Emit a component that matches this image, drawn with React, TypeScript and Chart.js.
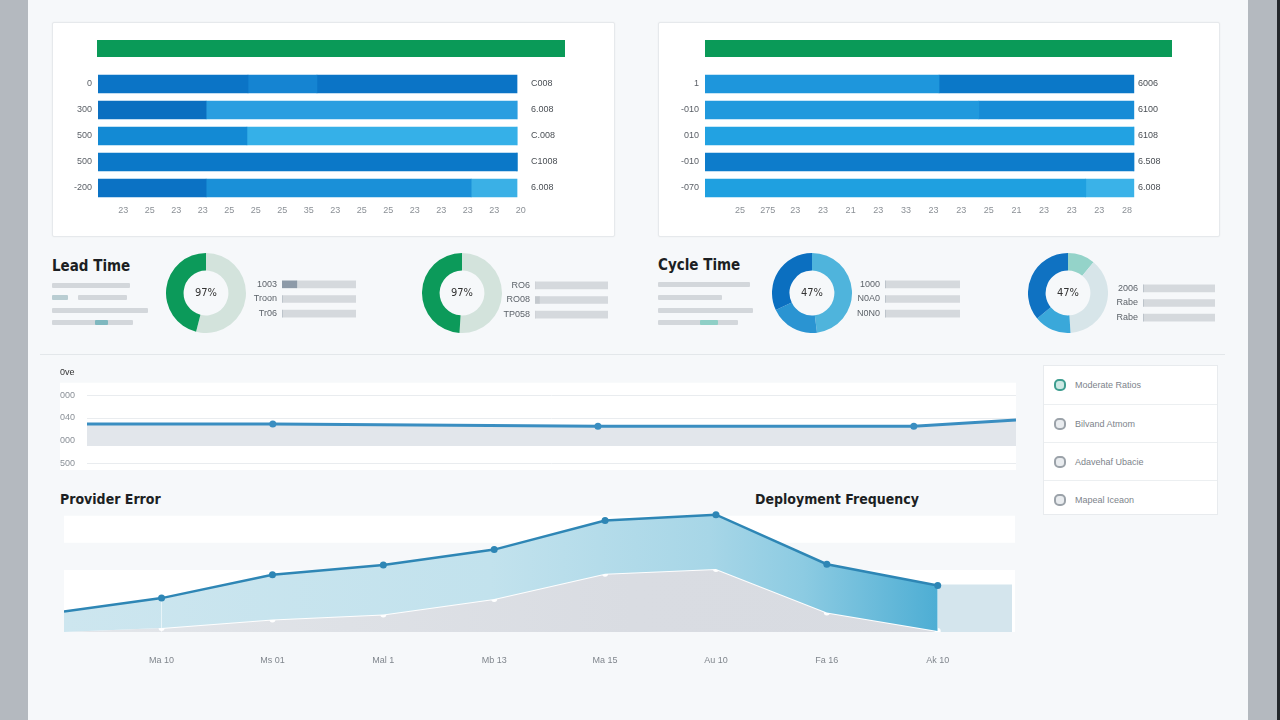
import React, { useEffect, useRef } from 'react';
import { Chart, registerables } from 'chart.js';
Chart.register(...registerables);

const FONT = "'Liberation Sans', Arial, sans-serif";
const NARROW = "'Liberation Sans Narrow', 'DejaVu Sans Condensed', 'Liberation Sans', sans-serif";

// ---------- top-left bar card ----------
const LEFT_ROWS = ['0', '300', '500', '500', '-200'];
const LEFT_VALUES = ['C008', '6.008', 'C.008', 'C1008', '6.008'];
const LEFT_TICKS = ['23', '25', '23', '23', '25', '25', '25', '35', '23', '25', '25', '23', '23', '23', '23', '20'];
const LEFT_SEG1 = [5.66, 4.08, 5.62, 15.81, 4.08];
const LEFT_SEG2 = [2.6, 11.73, 10.19, 0, 10.0];
const LEFT_SEG3 = [7.55, 0, 0, 0, 1.73];
const LEFT_C1 = ['#0b74c6', '#0b6fc0', '#138ad4', '#0b78c8', '#0b72c4'];
const LEFT_C2 = ['#1584d2', '#2a9ee0', '#35b0e8', '#0b78c8', '#1a90d8'];
const LEFT_C3 = ['#0b74c6', '#2a9ee0', '#35b0e8', '#0b78c8', '#3ab0e6'];
const LEFT_GREEN = [17.62];

// ---------- top-right bar card ----------
const RIGHT_ROWS = ['1', '-010', '010', '-010', '-070'];
const RIGHT_VALUES = ['6006', '6100', '6108', '6.508', '6.008'];
const RIGHT_TICKS = ['25', '275', '23', '23', '21', '23', '33', '23', '23', '25', '21', '23', '23', '23', '28'];
const RIGHT_SEG1 = [8.47, 9.91, 15.52, 15.52, 13.78];
const RIGHT_SEG2 = [7.05, 5.61, 0, 0, 1.74];
const RIGHT_C1 = ['#1e96dc', '#2099dd', '#22a2e2', '#0d7ccb', '#1fa0e0'];
const RIGHT_C2 = ['#0b78c8', '#178cd6', '#22a2e2', '#0d7ccb', '#3ab2e8'];
const RIGHT_GREEN = [16.9];

// ---------- donuts ----------
const D1_VALUES = [54, 46];
const D2_VALUES = [51, 49];
const D3_VALUES = [48, 20, 32];
const D4_VALUES = [11, 38, 15, 36];
const D1_LABELS = ['Rest', 'Done'];
const D3_LABELS = ['A', 'B', 'C'];
const D4_LABELS = ['A', 'B', 'C', 'D'];
const DONUT_TEXT = ['97%', '97%', '47%', '47%'];

const MINI1_LABELS = ['1003', 'Troon', 'Tr06'];
const MINI1_HI = [20, 0, 0];
const MINI2_LABELS = ['RO6', 'RO08', 'TP058'];
const MINI2_HI = [0, 6, 0];
const MINI3_LABELS = ['1000', 'N0A0', 'N0N0'];
const MINI3_HI = [0, 0, 0];
const MINI4_LABELS = ['2006', 'Rabe', 'Rabe'];
const MINI4_HI = [0, 0, 0];

// ---------- middle line ----------
const MID_TICKS = ['500', '000', '040', '000', '0ve'];
const MID_X = [0, 20, 55, 89, 100];
const MID_Y = [1.73, 1.73, 1.64, 1.64, 1.91];
const MID_MARK = [0, 3.5, 3.5, 3.5, 0];
const MID_FLOOR = 0.76;

// ---------- bottom area ----------
const BOTTOM_LABELS = ['Ma 10', 'Ms 01', 'Mal 1', 'Mb 13', 'Ma 15', 'Au 10', 'Fa 16', 'Ak 10'];
const BOTTOM_X = [-0.88, 0, 1, 2, 3, 4, 5, 6, 7];
const UPPER = [16.2, 26.9, 45.4, 53.1, 65.4, 88.5, 93.1, 53.8, 36.9];
const LOWER = [0, 3.1, 10, 13.8, 26.2, 46.2, 50, 15.4, 0.8];
const BOX_X = [7, 7.67];
const BOX_Y = [37.7, 37.7];

const LIST_ITEMS = ['Moderate Ratios', 'Bilvand Atmom', 'Adavehaf Ubacie', 'Mapeal Iceaon'];

const BASE = {
  responsive: false,
  animation: false,
  events: [],
  layout: { padding: 0 },
  plugins: { legend: { display: false }, tooltip: { enabled: false } },
};

const noPad = (a: any) => { a.paddingTop = 0; a.paddingBottom = 0; };

function Canvas({ x, y, w, h, make }: any) {
  const ref = useRef<HTMLCanvasElement>(null);
  useEffect(() => {
    const c = new Chart(ref.current as HTMLCanvasElement, make());
    return () => c.destroy();
  }, []);
  return (
    <canvas
      ref={ref}
      width={w}
      height={h}
      style={{ position: 'absolute', left: x, top: y, width: w, height: h }}
    />
  );
}

const valueLabels = (values: string[], at: number) => ({
  id: 'vals',
  afterDatasetsDraw(chart: any) {
    const { ctx, scales } = chart;
    ctx.save();
    ctx.font = `9px ${FONT}`;
    ctx.fillStyle = '#4a4f55';
    ctx.textBaseline = 'middle';
    ctx.textAlign = 'left';
    values.forEach((v, i) => ctx.fillText(v, scales.x.getPixelForValue(at), scales.y.getPixelForValue(i)));
    ctx.restore();
  },
});

function barConfig(rows: string[], segs: number[][], colors: string[][], ticks: string[], tickStart: number, xMax: number, values: string[], valueAt: number) {
  return {
    type: 'bar',
    data: {
      labels: rows,
      datasets: segs.map((s, k) => ({ data: s, backgroundColor: colors[k], borderWidth: 0, barThickness: 18 })),
    },
    options: {
      ...BASE,
      indexAxis: 'y',
      scales: {
        x: {
          stacked: true, min: 0, max: xMax,
          grid: { display: false, drawTicks: false }, border: { display: false },
          afterBuildTicks: (a: any) => { a.ticks = ticks.map((_, i) => ({ value: tickStart + i })); },
          ticks: { autoSkip: false, maxRotation: 0, padding: 4, color: '#8b9096', font: { size: 9, family: FONT }, callback: (_v: any, i: number) => ticks[i] },
          afterFit: (a: any) => { a.height = 20; a.paddingLeft = 0; a.paddingRight = 0; },
        },
        y: {
          stacked: true,
          grid: { display: false, drawTicks: false }, border: { display: false },
          ticks: { padding: 6, color: '#5a5f66', font: { size: 9, family: FONT } },
          afterFit: (a: any) => { a.width = 48; noPad(a); },
        },
      },
    },
    plugins: [valueLabels(values, valueAt)],
  };
}

function greenConfig(value: number[], xMax: number) {
  return {
    type: 'bar',
    data: { labels: [''], datasets: [{ data: value, backgroundColor: '#0a9a58', borderWidth: 0, barPercentage: 1, categoryPercentage: 1 }] },
    options: {
      ...BASE,
      indexAxis: 'y',
      scales: { x: { display: false, min: 0, max: xMax }, y: { display: false } },
    },
  };
}

function donutConfig(labels: string[], data: number[], colors: string[]) {
  return {
    type: 'doughnut',
    data: { labels, datasets: [{ data, backgroundColor: colors, borderWidth: 0 }] },
    options: { ...BASE, cutout: '56%' },
  };
}

function miniConfig(labels: string[], hi: number[], hiColor: string) {
  return {
    type: 'bar',
    data: {
      labels,
      datasets: [
        { data: hi, backgroundColor: hiColor, borderWidth: 0, barThickness: 7 },
        { data: hi.map((v) => 100 - v), backgroundColor: '#d5d9dd', borderWidth: 0, barThickness: 7 },
      ],
    },
    options: {
      ...BASE,
      indexAxis: 'y',
      scales: {
        x: { stacked: true, min: 0, max: 100, display: false },
        y: {
          stacked: true,
          grid: { display: false, drawTicks: false }, border: { display: false },
          ticks: { padding: 5, color: '#5d636a', font: { size: 9, family: FONT } },
          afterFit: (a: any) => { a.width = 42; noPad(a); },
        },
      },
    },
  };
}

const midBg = {
  id: 'midBg',
  beforeDraw(chart: any) {
    const { ctx, scales, chartArea, width } = chart;
    const top = scales.y.getPixelForValue(3.56);
    ctx.save();
    ctx.fillStyle = '#ffffff';
    ctx.fillRect(0, top, width, chartArea.bottom - top);
    ctx.restore();
  },
};

function midConfig() {
  return {
    type: 'line',
    data: {
      datasets: [{
        data: MID_X.map((x, i) => ({ x, y: MID_Y[i] })),
        borderColor: '#3a8ec1', borderWidth: 3,
        fill: { value: MID_FLOOR }, backgroundColor: '#e2e6eb',
        pointRadius: MID_MARK, pointBackgroundColor: '#3a8ec1', pointBorderWidth: 0, tension: 0,
      }],
    },
    options: {
      ...BASE,
      scales: {
        x: { type: 'linear', min: 0, max: 100, display: false },
        y: {
          min: -0.3, max: 4.3,
          afterBuildTicks: (a: any) => { a.ticks = MID_TICKS.map((_, i) => ({ value: i })); },
          ticks: {
            callback: (_v: any, i: number) => MID_TICKS[i], crossAlign: 'far', padding: 0,
            color: (c: any) => (c.index === 4 ? '#333' : '#8a9097'), font: { size: 9, family: FONT },
          },
          grid: { color: (c: any) => (c.index === 4 ? 'rgba(0,0,0,0)' : '#e9ecef'), drawTicks: false },
          border: { display: false },
          afterFit: (a: any) => { a.width = 27; noPad(a); },
        },
      },
    },
    plugins: [midBg],
  };
}

const bands = {
  id: 'bands',
  beforeDatasetsDraw(chart: any) {
    const { ctx, scales, chartArea } = chart;
    ctx.save();
    ctx.fillStyle = '#ffffff';
    [[70.8, 92.3], [0, 49.2]].forEach(([a, b]) => {
      const y1 = scales.y.getPixelForValue(b);
      const y2 = scales.y.getPixelForValue(a);
      ctx.fillRect(chartArea.left, y1, chartArea.right - chartArea.left + 3, y2 - y1);
    });
    ctx.restore();
  },
};

function bottomConfig() {
  const blueFill = (c: any) => {
    const ca = c.chart.chartArea;
    if (!ca) return '#cfe7ef';
    const g = c.chart.ctx.createLinearGradient(ca.left, 0, ca.right, 0);
    g.addColorStop(0, '#cde6ef');
    g.addColorStop(0.45, '#c2e2ed');
    g.addColorStop(0.68, '#a7d6e7');
    g.addColorStop(0.78, '#8ccbe2');
    g.addColorStop(0.92, '#4eaed4');
    g.addColorStop(1, '#4eaed4');
    return g;
  };
  const grayFill = (c: any) => {
    const ca = c.chart.chartArea;
    if (!ca) return '#dcdfe5';
    const g = c.chart.ctx.createLinearGradient(ca.left, 0, ca.right, 0);
    g.addColorStop(0, '#e3e6ea');
    g.addColorStop(0.6, '#d9dce2');
    g.addColorStop(1, '#d8dbe1');
    return g;
  };
  return {
    type: 'line',
    data: {
      datasets: [
        {
          data: BOTTOM_X.map((x, i) => ({ x, y: UPPER[i] })),
          borderColor: '#2e86b5', borderWidth: 2.5, tension: 0,
          fill: '+1', backgroundColor: blueFill,
          pointRadius: UPPER.map((_, i) => (i === 0 ? 0 : 3.5)),
          pointBackgroundColor: '#2e86b5', pointBorderWidth: 0,
        },
        {
          data: BOTTOM_X.map((x, i) => ({ x, y: LOWER[i] })),
          borderColor: 'rgba(255,255,255,0.95)', borderWidth: 2, tension: 0,
          segment: { borderColor: (s: any) => (s.p0DataIndex === 0 ? 'rgba(0,0,0,0)' : undefined) },
          fill: 'origin', backgroundColor: grayFill,
          pointRadius: LOWER.map((_, i) => (i === 0 ? 0 : 3)),
          pointBackgroundColor: '#ffffff', pointBorderWidth: 0,
        },
        {
          data: BOX_X.map((x, i) => ({ x, y: BOX_Y[i] })),
          borderWidth: 0, pointRadius: 0, fill: 'origin', backgroundColor: '#d4e5ed',
        },
      ],
    },
    options: {
      ...BASE,
      scales: {
        x: {
          type: 'linear', min: -0.88, max: 7.67,
          afterBuildTicks: (a: any) => { a.ticks = BOTTOM_LABELS.map((_, i) => ({ value: i })); },
          ticks: { callback: (_v: any, i: number) => BOTTOM_LABELS[i], padding: 23, maxRotation: 0, autoSkip: false, color: '#80868d', font: { size: 9, family: FONT } },
          grid: { display: false, drawTicks: false }, border: { display: false },
          afterFit: (a: any) => { a.height = 40; },
        },
        y: { min: 0, max: 100, display: false },
      },
    },
    plugins: [bands],
  };
}

const Skel = ({ x, y, w, c }: any) => (
  <div style={{ position: 'absolute', left: x, top: y, width: w, height: 5, background: c || '#d3d7db', borderRadius: 1 }} />
);

const Title = ({ x, y, text, size }: any) => (
  <div style={{ position: 'absolute', left: x, top: y, fontFamily: NARROW, fontWeight: 700, fontSize: size || 15, color: '#1c1f23', whiteSpace: 'nowrap', lineHeight: 1 }}>{text}</div>
);

const Card = ({ x, y, w, h }: any) => (
  <div style={{ position: 'absolute', left: x, top: y, width: w, height: h, background: '#ffffff', border: '1px solid #e6e9ec', borderRadius: 2, boxSizing: 'border-box', boxShadow: '0 0 2px rgba(0,0,0,0.05)' }} />
);

const Center = ({ cx, cy, text }: any) => (
  <div style={{ position: 'absolute', left: cx - 20, top: cy - 7, width: 40, textAlign: 'center', fontFamily: NARROW, fontSize: 11, color: '#333', lineHeight: '14px' }}>{text}</div>
);

export default function App() {
  return (
    <div style={{ position: 'absolute', left: 0, top: 0, width: 1280, height: 720, background: '#b4b9bf', overflow: 'hidden', fontFamily: FONT }}>
      <div style={{ position: 'absolute', left: 28, top: 0, width: 1220, height: 720, background: '#f6f8fa' }} />
      <div style={{ position: 'absolute', left: 1277, top: 0, width: 3, height: 720, background: '#24282c' }} />

      {/* top cards */}
      <Card x={52} y={22} w={563} h={215} />
      <Card x={658} y={22} w={562} h={215} />
      <Canvas x={97} y={40} w={468} h={17} make={() => greenConfig(LEFT_GREEN, 17.62)} />
      <Canvas x={50} y={71} w={515} h={150} make={() => barConfig(LEFT_ROWS, [LEFT_SEG1, LEFT_SEG2, LEFT_SEG3], [LEFT_C1, LEFT_C2, LEFT_C3], LEFT_TICKS, 0.95, 17.62, LEFT_VALUES, 16.34)} />
      <Canvas x={705} y={40} w={467} h={17} make={() => greenConfig(RIGHT_GREEN, 16.9)} />
      <Canvas x={657} y={71} w={515} h={150} make={() => barConfig(RIGHT_ROWS, [RIGHT_SEG1, RIGHT_SEG2], [RIGHT_C1, RIGHT_C2], RIGHT_TICKS, 1.27, 16.9, RIGHT_VALUES, 15.67)} />

      {/* donut row */}
      <Title x={52} y={259} text="Lead Time" />
      <Skel x={52} y={283} w={78} />
      <Skel x={52} y={295} w={16} c="#b9cdd2" />
      <Skel x={78} y={295} w={49} />
      <Skel x={52} y={308} w={96} />
      <Skel x={52} y={320} w={81} />
      <Skel x={95} y={320} w={13} c="#7fb8bf" />

      <Title x={658} y={258} text="Cycle Time" />
      <Skel x={658} y={282} w={92} />
      <Skel x={658} y={295} w={64} />
      <Skel x={658} y={308} w={95} />
      <Skel x={658} y={320} w={80} />
      <Skel x={700} y={320} w={18} c="#8fcfc6" />

      <Canvas x={166} y={253} w={80} h={80} make={() => donutConfig(D1_LABELS, D1_VALUES, ['#d3e3dc', '#0c9a5a'])} />
      <Center cx={206} cy={293} text={DONUT_TEXT[0]} />
      <Canvas x={422} y={253} w={80} h={80} make={() => donutConfig(D1_LABELS, D2_VALUES, ['#d3e3dc', '#0c9a5a'])} />
      <Center cx={462} cy={293} text={DONUT_TEXT[1]} />
      <Canvas x={772} y={253} w={80} h={80} make={() => donutConfig(D3_LABELS, D3_VALUES, ['#4fb4dc', '#2a94d2', '#0b6fc0'])} />
      <Center cx={812} cy={293} text={DONUT_TEXT[2]} />
      <Canvas x={1028} y={253} w={80} h={80} make={() => donutConfig(D4_LABELS, D4_VALUES, ['#94d3c9', '#d7e5e9', '#3aa8da', '#0f72c2'])} />
      <Center cx={1068} cy={293} text={DONUT_TEXT[3]} />

      <Canvas x={240} y={277} w={116} h={44} make={() => miniConfig(MINI1_LABELS, MINI1_HI, '#8d9aa8')} />
      <Canvas x={493} y={278} w={115} h={44} make={() => miniConfig(MINI2_LABELS, MINI2_HI, '#c4c9ce')} />
      <Canvas x={843} y={277} w={117} h={44} make={() => miniConfig(MINI3_LABELS, MINI3_HI, '#8d9aa8')} />
      <Canvas x={1101} y={281} w={114} h={44} make={() => miniConfig(MINI4_LABELS, MINI4_HI, '#8d9aa8')} />

      <div style={{ position: 'absolute', left: 40, top: 354, width: 1185, height: 1, background: '#e3e7ea' }} />

      {/* middle line */}
      <Canvas x={60} y={366} w={956} h={104} make={midConfig} />

      {/* right list */}
      <div style={{ position: 'absolute', left: 1043, top: 365, width: 175, height: 150, background: '#ffffff', border: '1px solid #e8ebee', boxSizing: 'border-box' }}>
        {LIST_ITEMS.map((t, i) => (
          <div key={i} style={{ position: 'absolute', left: 0, top: i * 38, width: 173, height: 38, borderTop: i ? '1px solid #eceff1' : 'none', boxSizing: 'border-box' }}>
            <div style={{ position: 'absolute', left: 10, top: 13, width: 8, height: 8, borderRadius: 5, border: `2px solid ${i === 0 ? '#3f9e90' : '#9ba2a9'}`, background: i === 0 ? '#cde9e4' : '#e9ecef' }} />
            <div style={{ position: 'absolute', left: 31, top: 12, fontSize: 9, color: '#7d848b', whiteSpace: 'nowrap', lineHeight: '14px' }}>{t}</div>
          </div>
        ))}
      </div>

      {/* bottom area */}
      <Title x={60} y={492} text="Provider Error" size={14} />
      <Title x={755} y={492} text="Deployment Frequency" size={14} />
      <Canvas x={60} y={502} w={956} h={170} make={bottomConfig} />
    </div>
  );
}
